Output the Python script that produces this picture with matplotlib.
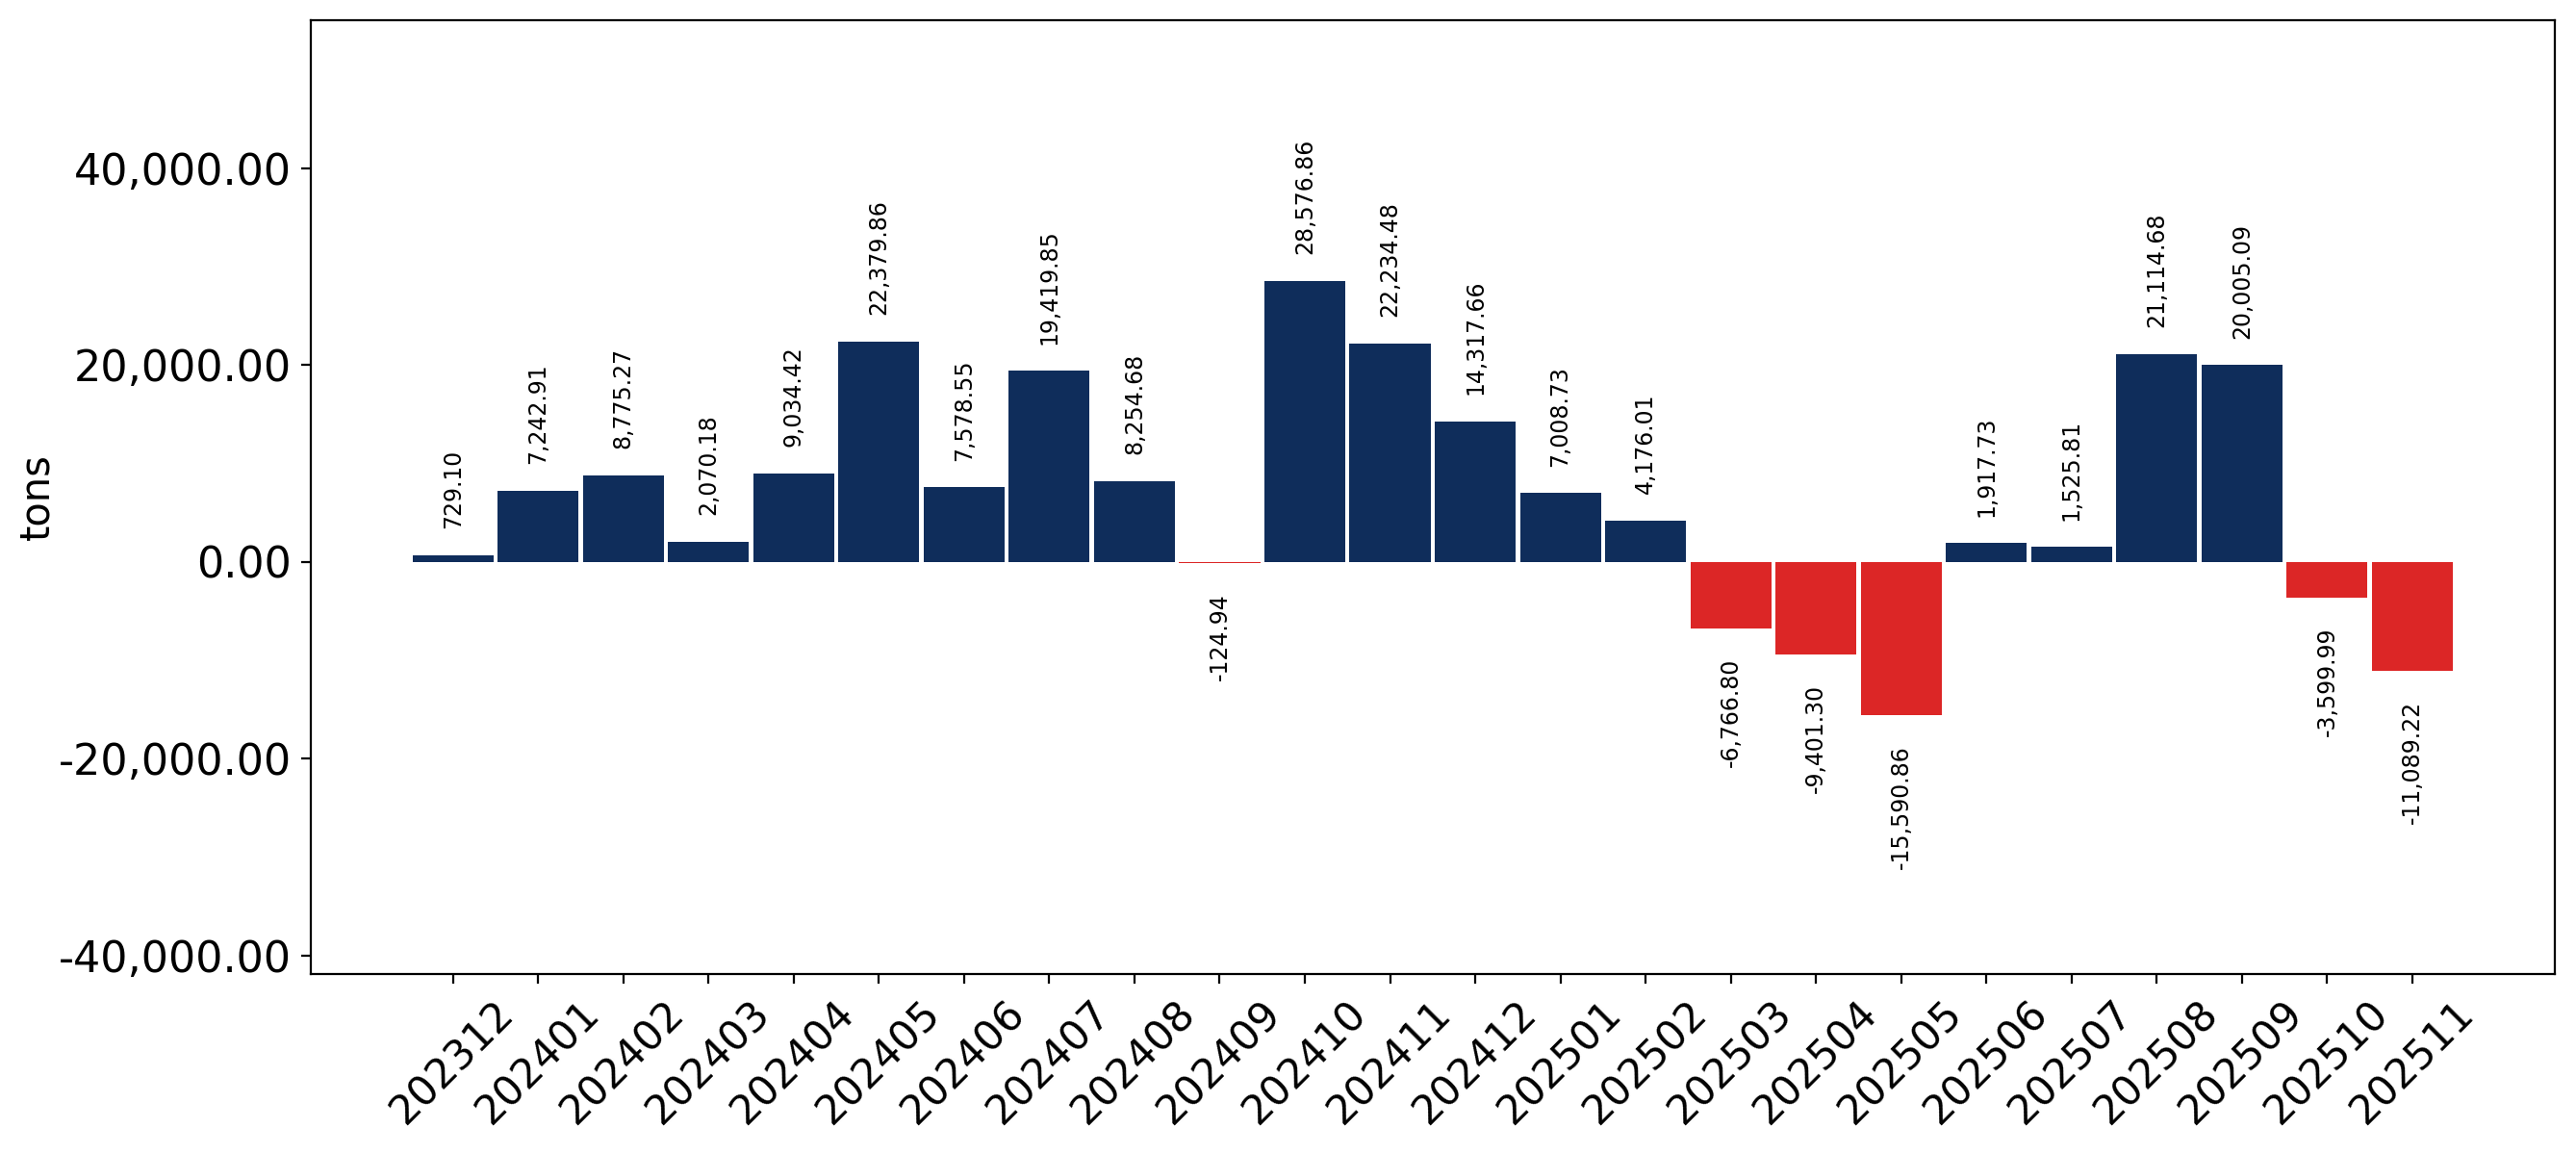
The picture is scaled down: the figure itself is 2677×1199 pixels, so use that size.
import matplotlib
matplotlib.use("Agg")
import matplotlib.pyplot as plt
from matplotlib.ticker import FuncFormatter

months = ["202312", "202401", "202402", "202403", "202404", "202405", "202406",
          "202407", "202408", "202409", "202410", "202411", "202412", "202501",
          "202502", "202503", "202504", "202505", "202506", "202507", "202508",
          "202509", "202510", "202511"]
values = [729.10, 7242.91, 8775.27, 2070.18, 9034.42, 22379.86, 7578.55,
          19419.85, 8254.68, -124.94, 28576.86, 22234.48, 14317.66, 7008.73,
          4176.01, -6766.80, -9401.30, -15590.86, 1917.73, 1525.81, 21114.68,
          20005.09, -3599.99, -11089.22]
y_ticks = [-40000, -20000, 0, 20000, 40000]

POS = "#0f2d5b"
NEG = "#dc2626"

fig = plt.figure(figsize=(13.385, 5.995), dpi=200)
ax = fig.add_axes([0.1205, 0.1556, 0.8713, 0.8273])

x = list(range(len(months)))
colors = [POS if v >= 0 else NEG for v in values]
ax.bar(x, values, width=0.95, color=colors)

for xi, v in zip(x, values):
    if v >= 0:
        ax.annotate(f"{v:,.2f}", (xi, v), xytext=(0, 10), textcoords="offset points",
                    rotation=90, ha="center", va="bottom", fontsize=8.5)
    else:
        ax.annotate(f"{v:,.2f}", (xi, v), xytext=(0, -11), textcoords="offset points",
                    rotation=90, ha="center", va="top", fontsize=8.5)

ax.set_ylim(-41900, 55100)
ax.set_yticks(y_ticks)
ax.yaxis.set_major_formatter(FuncFormatter(lambda v, p: f"{v:,.2f}"))
ax.set_xticks(x)
ax.set_xticklabels(months, rotation=45, fontsize=15.3)
ax.tick_params(axis="y", labelsize=16)
ax.set_ylabel("tons", fontsize=15, labelpad=0.5)

fig.savefig("out.png", dpi=200)
